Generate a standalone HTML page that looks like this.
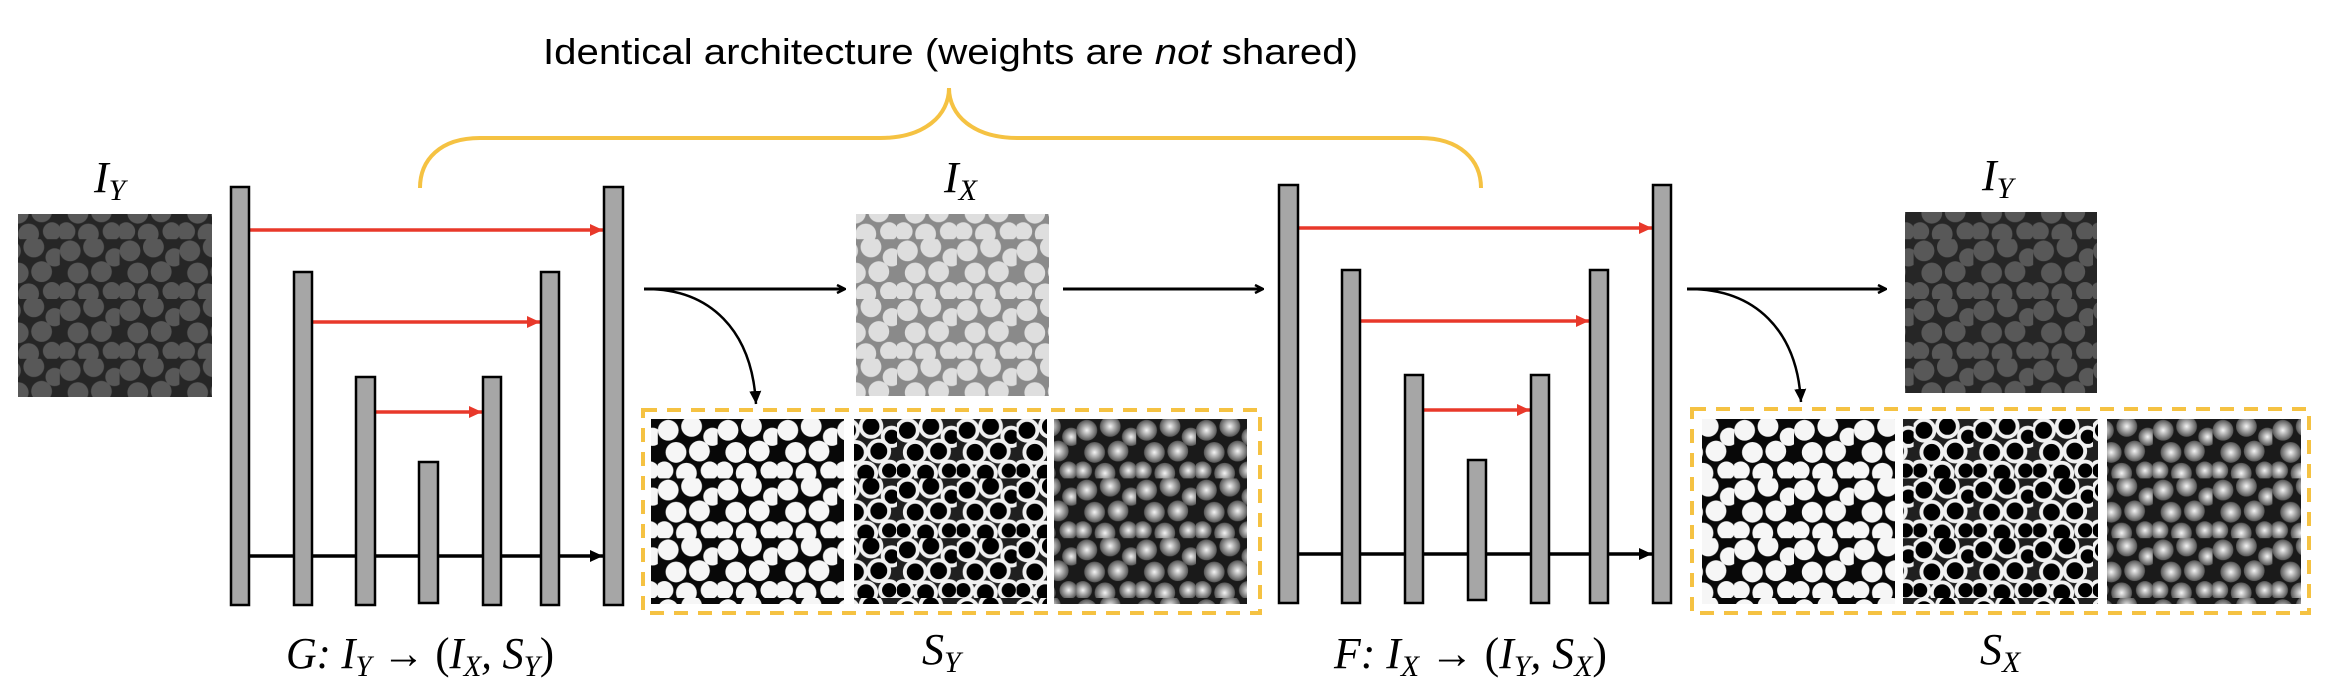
<!DOCTYPE html>
<html><head><meta charset="utf-8"><style>html,body{margin:0;padding:0;background:#fff}svg{display:block}</style></head>
<body>
<svg width="2330" height="690" viewBox="0 0 2330 690" xmlns="http://www.w3.org/2000/svg">
<defs>
<marker id="ab" markerWidth="10" markerHeight="10" refX="9" refY="5" orient="auto" markerUnits="userSpaceOnUse"><path d="M1,1 L9,5 L1,9" fill="none" stroke="#000" stroke-width="2.5"/></marker>
<marker id="abf" markerWidth="14" markerHeight="14" refX="13" refY="7" orient="auto" markerUnits="userSpaceOnUse"><path d="M0,1 L13,7 L0,13 Z" fill="#000"/></marker>
<marker id="ar" markerWidth="14" markerHeight="14" refX="13" refY="7" orient="auto" markerUnits="userSpaceOnUse"><path d="M0,1 L13,7 L0,13 Z" fill="#e8382a"/></marker>
<radialGradient id="rg"><stop offset="0" stop-color="#f4f4f4"/><stop offset="1" stop-color="#555"/></radialGradient>
<g id="cells">
<circle cx="8" cy="9" r="8"/><circle cx="26" cy="6" r="8"/><circle cx="42" cy="14" r="7"/>
<circle cx="14" cy="26" r="8"/><circle cx="32" cy="25" r="8"/><circle cx="5" cy="40" r="7"/>
<circle cx="22" cy="42" r="8"/><circle cx="40" cy="40" r="7"/>
</g>
<pattern id="pY" width="46" height="46" patternUnits="userSpaceOnUse" patternTransform="scale(1.3)"><rect width="46" height="46" fill="#262626"/><g fill="#585858"><use href="#cells"/></g></pattern>
<pattern id="pX" width="46" height="46" patternUnits="userSpaceOnUse" patternTransform="scale(1.3)"><rect width="46" height="46" fill="#8a8a8a"/><g fill="#dedede"><use href="#cells"/></g></pattern>
<pattern id="p1" width="46" height="46" patternUnits="userSpaceOnUse" patternTransform="scale(1.3)"><rect width="46" height="46" fill="#080808"/><g fill="#f6f6f6"><use href="#cells"/></g></pattern>
<pattern id="p2" width="46" height="46" patternUnits="userSpaceOnUse" patternTransform="scale(1.3)"><rect width="46" height="46" fill="#202020"/><g fill="#000" stroke="#f0f0f0" stroke-width="3"><use href="#cells"/></g></pattern>
<pattern id="p3" width="46" height="46" patternUnits="userSpaceOnUse" patternTransform="scale(1.3)"><rect width="46" height="46" fill="#1a1a1a"/><g fill="url(#rg)"><use href="#cells"/></g></pattern>
</defs>

<text x="543" y="64" font-family="'Liberation Sans',sans-serif" font-size="36" fill="#000" textLength="815" lengthAdjust="spacingAndGlyphs">Identical architecture (weights are <tspan font-style="italic">not</tspan> shared)</text>

<path d="M420,188 C420,160 440,138 480,138 L880,138 C925,138 949,115 949,88 C949,115 973,138 1018,138 L1420,138 C1460,138 1481,160 1481,188" fill="none" stroke="#f5c242" stroke-width="4"/>

<g font-family="'Liberation Serif',serif" font-style="italic" fill="#000">
<text x="94" y="192" font-size="44">I<tspan font-size="30" dy="8">Y</tspan></text>
<text x="944" y="192" font-size="44">I<tspan font-size="30" dy="8">X</tspan></text>
<text x="1982" y="190" font-size="44">I<tspan font-size="30" dy="8">Y</tspan></text>
<text x="922" y="664" font-size="44">S<tspan font-size="30" dy="8">Y</tspan></text>
<text x="1980" y="664" font-size="44">S<tspan font-size="30" dy="8">X</tspan></text>
<text x="286" y="668" font-size="44" textLength="268" lengthAdjust="spacingAndGlyphs">G: I<tspan font-size="30" dy="8">Y</tspan><tspan dy="-8" font-style="normal"> → (</tspan>I<tspan font-size="30" dy="8">X</tspan><tspan dy="-8">, S</tspan><tspan font-size="30" dy="8">Y</tspan><tspan dy="-8" font-style="normal">)</tspan></text>
<text x="1334" y="668" font-size="44" textLength="273" lengthAdjust="spacingAndGlyphs">F: I<tspan font-size="30" dy="8">X</tspan><tspan dy="-8" font-style="normal"> → (</tspan>I<tspan font-size="30" dy="8">Y</tspan><tspan dy="-8">, S</tspan><tspan font-size="30" dy="8">X</tspan><tspan dy="-8" font-style="normal">)</tspan></text>
</g>

<rect x="18" y="214" width="194" height="183" fill="url(#pY)"/>
<rect x="856" y="214" width="193" height="182" fill="url(#pX)"/>
<rect x="1905" y="212" width="192" height="181" fill="url(#pY)"/>

<rect x="643" y="410" width="617" height="203" fill="none" stroke="#f5c242" stroke-width="4" stroke-dasharray="14 10"/>
<rect x="651" y="419" width="193" height="185" fill="url(#p1)"/>
<rect x="854" y="419" width="193" height="185" fill="url(#p2)"/>
<rect x="1054" y="419" width="193" height="185" fill="url(#p3)"/>
<rect x="1692" y="409" width="617" height="204" fill="none" stroke="#f5c242" stroke-width="4" stroke-dasharray="14 10"/>
<rect x="1702" y="419" width="193" height="185" fill="url(#p1)"/>
<rect x="1903" y="419" width="195" height="185" fill="url(#p2)"/>
<rect x="2107" y="419" width="194" height="185" fill="url(#p3)"/>

<g stroke-width="3.5" fill="none">
<line x1="250" y1="556" x2="603" y2="556" stroke="#000" marker-end="url(#abf)"/>
<line x1="250" y1="230" x2="603" y2="230" stroke="#e8382a" marker-end="url(#ar)"/>
<line x1="313" y1="322" x2="540" y2="322" stroke="#e8382a" marker-end="url(#ar)"/>
<line x1="376" y1="412" x2="482" y2="412" stroke="#e8382a" marker-end="url(#ar)"/>
<line x1="1298" y1="554" x2="1652" y2="554" stroke="#000" marker-end="url(#abf)"/>
<line x1="1298" y1="228" x2="1652" y2="228" stroke="#e8382a" marker-end="url(#ar)"/>
<line x1="1361" y1="321" x2="1589" y2="321" stroke="#e8382a" marker-end="url(#ar)"/>
<line x1="1424" y1="410" x2="1530" y2="410" stroke="#e8382a" marker-end="url(#ar)"/>
</g>

<g fill="#a6a6a6" stroke="#000" stroke-width="2.5">
<rect x="231" y="187" width="18" height="418"/><rect x="294" y="272" width="18" height="333"/>
<rect x="356" y="377" width="19" height="228"/><rect x="419" y="462" width="19" height="141"/>
<rect x="483" y="377" width="18" height="228"/><rect x="541" y="272" width="18" height="333"/>
<rect x="604" y="187" width="19" height="418"/>
<rect x="1279" y="185" width="19" height="418"/><rect x="1342" y="270" width="18" height="333"/>
<rect x="1405" y="375" width="18" height="228"/><rect x="1468" y="460" width="18" height="140"/>
<rect x="1531" y="375" width="18" height="228"/><rect x="1590" y="270" width="18" height="333"/>
<rect x="1653" y="185" width="18" height="418"/>
</g>

<g stroke="#000" stroke-width="3" fill="none">
<line x1="644" y1="289" x2="845" y2="289" marker-end="url(#ab)"/>
<line x1="1063" y1="289" x2="1263" y2="289" marker-end="url(#ab)"/>
<line x1="1687" y1="289" x2="1886" y2="289" marker-end="url(#ab)"/>
<path d="M646,289 C710,289 752,330 756,404" stroke-width="2.5" marker-end="url(#abf)"/>
<path d="M1689,289 C1755,289 1797,330 1801,402" stroke-width="2.5" marker-end="url(#abf)"/>
</g>
</svg>
</body></html>
